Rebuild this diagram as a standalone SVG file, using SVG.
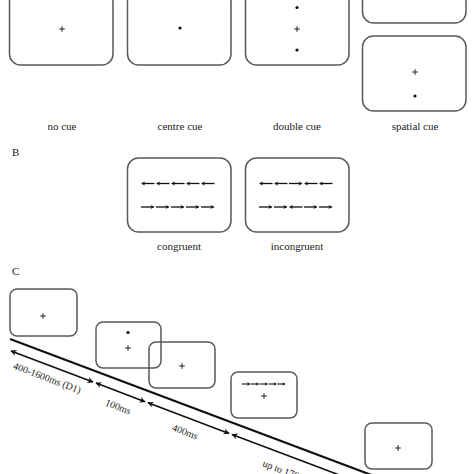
<svg xmlns="http://www.w3.org/2000/svg" width="474" height="474" viewBox="0 0 474 474">
<style>
.box{fill:#fff;stroke:#5a5a5a;stroke-width:1.5}
.lbl{font-family:"Liberation Serif","Times New Roman",serif;font-size:11px;fill:#222;text-anchor:middle}
.hdr{font-family:"Liberation Serif","Times New Roman",serif;font-size:11px;fill:#222}
.tl{font-family:"Liberation Serif","Times New Roman",serif;font-size:10px;fill:#222;text-anchor:middle}
.pl{stroke:#222;stroke-width:1}
.ar{stroke:#111;stroke-width:1.3;fill:none}
.conn{stroke:#111;fill:none}
</style>
<defs>
<marker id="ah" viewBox="0 0 10 10" refX="9" refY="5" markerWidth="6" markerHeight="6" orient="auto-start-reverse" markerUnits="userSpaceOnUse">
<path d="M0,0 L10,5 L0,10 L3,5 Z" fill="#111"/>
</marker>
<g id="plus"><line class="pl" x1="-2.8" y1="0" x2="2.8" y2="0"/><line class="pl" x1="0" y1="-2.8" x2="0" y2="2.8"/></g>
<g id="ra"><line class="ar" x1="0" y1="0" x2="12.5" y2="0"/><path d="M13.5,0 L9.5,-2 L10.5,0 L9.5,2 Z" fill="#111"/></g>
<g id="la"><line class="ar" x1="1" y1="0" x2="13.5" y2="0"/><path d="M0,0 L4,-2 L3,0 L4,2 Z" fill="#111"/></g>
<g id="sra"><line stroke="#111" stroke-width="1.1" x1="0" y1="0" x2="7.5" y2="0"/><path d="M8.3,0 L5.3,-1.8 L6,0 L5.3,1.8 Z" fill="#111"/></g>
</defs>

<!-- Panel A -->
<g id="nocue">
<rect class="box" x="9.5" y="-10" width="103.5" height="75" rx="11"/>
<use href="#plus" x="62" y="29"/>
<text class="lbl" x="62" y="130">no cue</text>
</g>
<g id="centrecue">
<rect class="box" x="127.5" y="-10" width="103.5" height="75" rx="11"/>
<circle cx="180" cy="28" r="1.6" fill="#111"/>
<text class="lbl" x="180" y="130">centre cue</text>
</g>
<g id="doublecue">
<rect class="box" x="245.5" y="-10" width="103.5" height="75" rx="11"/>
<circle cx="297" cy="7.5" r="1.6" fill="#111"/>
<use href="#plus" x="297" y="29"/>
<circle cx="297" cy="50" r="1.6" fill="#111"/>
<text class="lbl" x="297" y="130">double cue</text>
</g>
<g id="spatialcue">
<rect class="box" x="362.5" y="-52" width="103.5" height="75" rx="11"/>
<rect class="box" x="362.5" y="36" width="103.5" height="75" rx="11"/>
<use href="#plus" x="415" y="72"/>
<circle cx="415" cy="96" r="1.6" fill="#111"/>
<text class="lbl" x="415" y="130">spatial cue</text>
</g>

<!-- Panel B -->
<text class="hdr" x="12" y="156">B</text>
<g id="congruent">
<rect class="box" x="127.5" y="158" width="103.5" height="74" rx="11"/>
<use href="#la" x="141" y="183.5"/><use href="#la" x="156" y="183.5"/><use href="#la" x="171" y="183.5"/><use href="#la" x="186" y="183.5"/><use href="#la" x="201" y="183.5"/>
<use href="#ra" x="141" y="207"/><use href="#ra" x="156" y="207"/><use href="#ra" x="171" y="207"/><use href="#ra" x="186" y="207"/><use href="#ra" x="201" y="207"/>
<text class="lbl" x="179" y="250">congruent</text>
</g>
<g id="incongruent">
<rect class="box" x="245.5" y="158" width="103.5" height="74" rx="11"/>
<use href="#la" x="259" y="183.5"/><use href="#la" x="274" y="183.5"/><use href="#ra" x="289" y="183.5"/><use href="#la" x="304" y="183.5"/><use href="#la" x="319" y="183.5"/>
<use href="#ra" x="259" y="207"/><use href="#ra" x="274" y="207"/><use href="#la" x="289" y="207"/><use href="#ra" x="304" y="207"/><use href="#ra" x="319" y="207"/>
<text class="lbl" x="297" y="250">incongruent</text>
</g>

<!-- Panel C -->
<text class="hdr" x="12" y="275">C</text>
<g id="c1">
<rect class="box" x="10" y="289" width="67" height="47" rx="7"/>
<use href="#plus" x="43" y="316"/>
</g>
<g id="c2">
<rect class="box" x="96" y="322" width="65" height="46" rx="7"/>
<circle cx="128" cy="332.5" r="1.6" fill="#111"/>
<use href="#plus" x="128" y="348"/>
</g>
<g id="c3">
<rect class="box" x="149" y="342" width="66" height="46" rx="7" fill-opacity="0"/>
<use href="#plus" x="182" y="366"/>
</g>
<g id="c4">
<rect class="box" x="231" y="372" width="66" height="46" rx="7"/>
<use href="#sra" x="242" y="384"/><use href="#sra" x="250.8" y="384"/><use href="#sra" x="259.6" y="384"/><use href="#sra" x="268.4" y="384"/><use href="#sra" x="277.2" y="384"/>
<use href="#plus" x="264" y="396"/>
</g>
<g id="c5">
<rect class="box" x="365" y="423" width="67" height="46" rx="7"/>
<use href="#plus" x="398" y="448"/>
</g>

<g id="connectors">
<line class="conn" stroke-width="2.2" x1="10" y1="339" x2="390" y2="482"/>
<line class="conn" stroke-width="1.6" x1="11" y1="351" x2="93" y2="382" marker-start="url(#ah)" marker-end="url(#ah)"/>
<line class="conn" stroke-width="1.6" x1="96" y1="383" x2="145" y2="401.7" marker-start="url(#ah)" marker-end="url(#ah)"/>
<line class="conn" stroke-width="1.6" x1="148" y1="402.8" x2="229" y2="433.4" marker-start="url(#ah)" marker-end="url(#ah)"/>
<line class="conn" stroke-width="1.6" x1="232" y1="434.5" x2="350" y2="479" marker-start="url(#ah)"/>
</g>

<text class="tl" transform="translate(46,381) rotate(20.6)">400-1600ms (D1)</text>
<text class="tl" transform="translate(117,410) rotate(20.6)">100ms</text>
<text class="tl" transform="translate(184,435) rotate(20.6)">400ms</text>
<text class="tl" style="text-anchor:start" transform="translate(262,466) rotate(20.6)">up to 1700ms</text>
</svg>
